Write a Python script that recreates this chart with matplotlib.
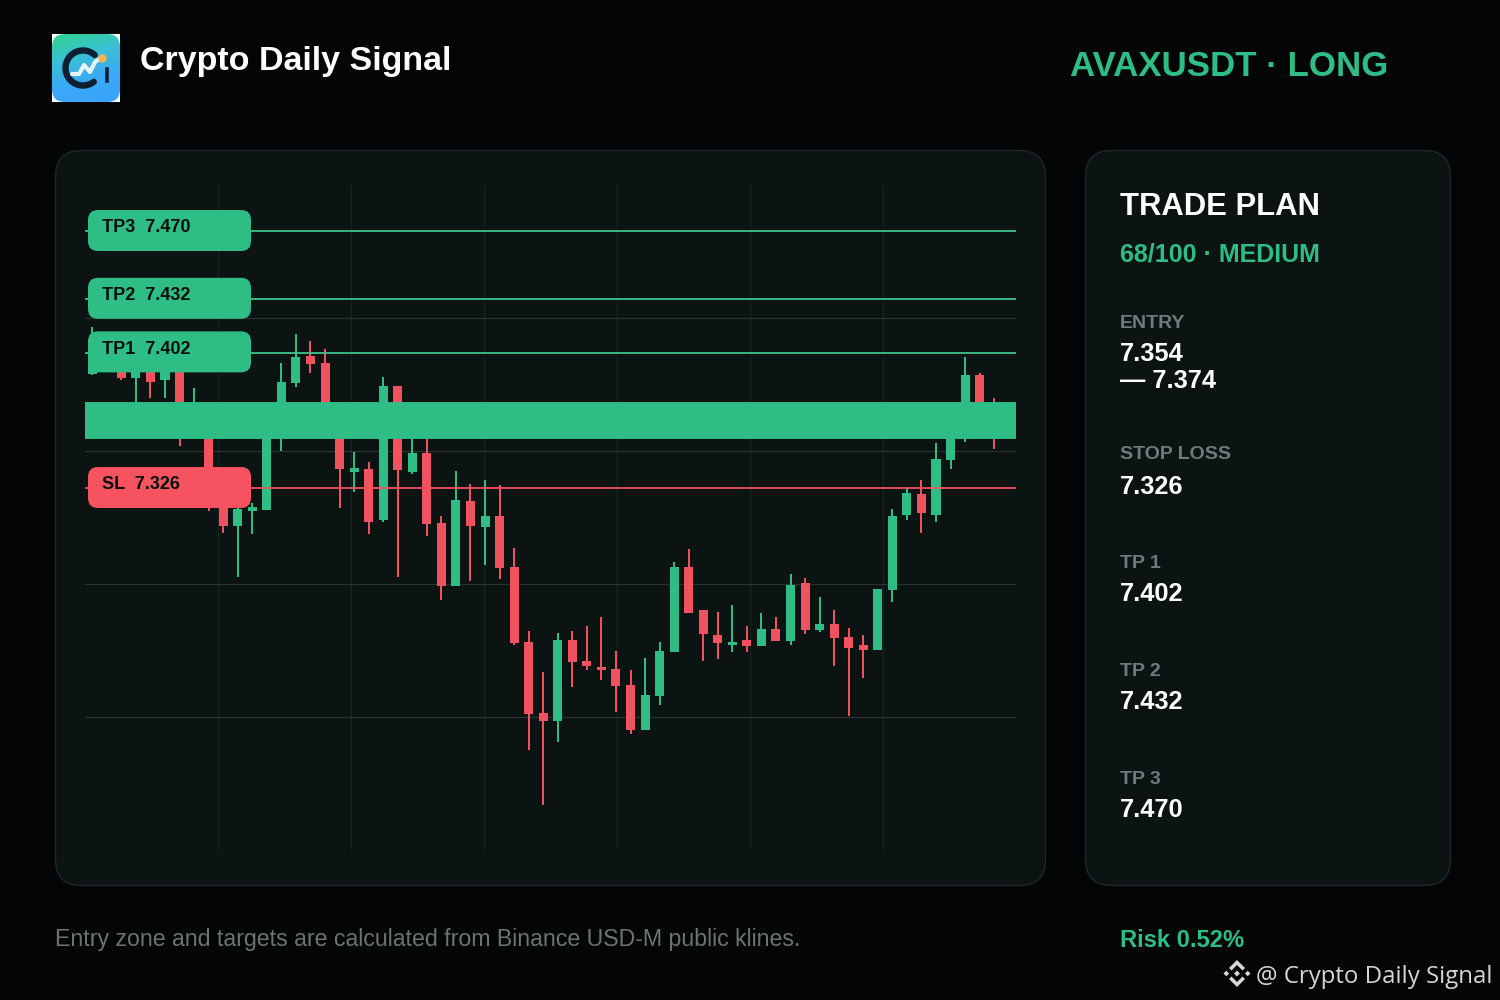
import numpy as np
import matplotlib
matplotlib.use('Agg')
import matplotlib.pyplot as plt
from matplotlib.patches import FancyBboxPatch, Polygon

plt.rcParams['font.family'] = ['Liberation Sans', 'DejaVu Sans']

# candles, prices (some sit hidden behind the zone and labels)
opens = [7.3899, 7.4061, 7.3977, 7.3876, 7.3977, 7.3865, 7.3949, 7.3613, 7.3613, 7.3277, 7.3047, 7.3131,
         7.3137, 7.3613, 7.3848, 7.4000, 7.3960, 7.3613, 7.3350, 7.3367, 7.3081, 7.3832, 7.3350, 7.3456,
         7.3064, 7.2711, 7.3187, 7.3042, 7.3103, 7.2818, 7.2397, 7.2000, 7.1955, 7.2409, 7.2291, 7.2257,
         7.2246, 7.2157, 7.1904, 7.2095, 7.2341, 7.2818, 7.2577, 7.2437, 7.2381, 7.2409, 7.2375, 7.2470,
         7.2403, 7.2728, 7.2465, 7.2498, 7.2425, 7.2381, 7.2353, 7.2689, 7.3109, 7.3227, 7.3109, 7.3417,
         7.3613, 7.3893, 7.3697]
highs = [7.4162, 7.4089, 7.4005, 7.4033, 7.4033, 7.4033, 7.4005, 7.3820, 7.3669, 7.3333, 7.3249, 7.3176,
         7.3686, 7.3960, 7.4123, 7.4084, 7.4039, 7.3652, 7.3462, 7.3406, 7.3882, 7.3832, 7.3557, 7.3557,
         7.3103, 7.3355, 7.3283, 7.3305, 7.3277, 7.2924, 7.2459, 7.2229, 7.2448, 7.2459, 7.2487, 7.2537,
         7.2347, 7.2241, 7.2308, 7.2397, 7.2846, 7.2918, 7.2577, 7.2565, 7.2605, 7.2487, 7.2560, 7.2537,
         7.2778, 7.2756, 7.2650, 7.2577, 7.2476, 7.2437, 7.2694, 7.3143, 7.3260, 7.3305, 7.3512, 7.3686,
         7.3994, 7.3904, 7.3764]
lows = [7.3893, 7.3932, 7.3865, 7.3641, 7.3764, 7.3764, 7.3495, 7.3574, 7.3131, 7.3008, 7.2762, 7.3002,
        7.3137, 7.3467, 7.3826, 7.3904, 7.3557, 7.3148, 7.3238, 7.3002, 7.3070, 7.2762, 7.3339, 7.2991,
        7.2633, 7.2711, 7.2739, 7.2829, 7.2750, 7.2381, 7.1792, 7.1484, 7.1837, 7.2145, 7.2241, 7.2185,
        7.2005, 7.1882, 7.1904, 7.2044, 7.2341, 7.2560, 7.2291, 7.2302, 7.2341, 7.2341, 7.2375, 7.2403,
        7.2381, 7.2442, 7.2453, 7.2263, 7.1983, 7.2196, 7.2353, 7.2622, 7.3081, 7.3008, 7.3070, 7.3367,
        7.3518, 7.3585, 7.3479]
closes = [7.4089, 7.3949, 7.3876, 7.4005, 7.3854, 7.3966, 7.3613, 7.3697, 7.3249, 7.3047, 7.3143, 7.3154,
          7.3641, 7.3854, 7.3994, 7.3955, 7.3585, 7.3367, 7.3372, 7.3070, 7.3832, 7.3361, 7.3456, 7.3058,
          7.2711, 7.3193, 7.3047, 7.3103, 7.2812, 7.2392, 7.1994, 7.1955, 7.2409, 7.2285, 7.2263, 7.2241,
          7.2151, 7.1904, 7.2101, 7.2347, 7.2818, 7.2560, 7.2442, 7.2392, 7.2397, 7.2375, 7.2470, 7.2403,
          7.2717, 7.2465, 7.2498, 7.2420, 7.2364, 7.2353, 7.2694, 7.3103, 7.3232, 7.3120, 7.3423, 7.3641,
          7.3893, 7.3613, 7.3613]

level_names = ['TP3', 'TP2', 'TP1', 'SL']
level_prices = [7.470, 7.432, 7.402, 7.326]
entry_low = 7.354
entry_high = 7.374

plan_labels = ['ENTRY', 'STOP LOSS', 'TP 1', 'TP 2', 'TP 3']
plan_values = ['7.354\n— 7.374', '7.326', '7.402', '7.432', '7.470']

GREEN = '#2ebd85'
RED = '#f6525f'
CANDLE_RED = '#f0535f'
BG = '#030507'
PANEL = '#0c1313'
EDGE = '#1e2828'
YMIN, YMAX = 7.1234, 7.4960

fig = plt.figure(figsize=(15, 10), dpi=100, facecolor=BG)

# page layer in pixel coordinates
page = fig.add_axes([0, 0, 1, 1])
page.set_xlim(0, 1500)
page.set_ylim(1000, 0)
page.axis('off')


def box(ax, x0, y0, x1, y1, r, **kw):
    p = FancyBboxPatch((x0 + r, y0 + r), x1 - x0 - 2 * r, y1 - y0 - 2 * r,
                       boxstyle=f'round,pad={r},rounding_size={r}', **kw)
    ax.add_patch(p)
    return p


box(page, 55.5, 150.5, 1045.5, 885.5, 26, fc=PANEL, ec=EDGE, lw=1)
box(page, 1085.5, 150.5, 1450.5, 885.5, 26, fc=PANEL, ec=EDGE, lw=1)

# logo
page.add_patch(plt.Rectangle((52, 34), 68, 68, fc='white', ec='none'))
grad = np.linspace(0, 1, 68)[:, None] * 0.8 + np.linspace(0, 1, 68)[None, :] * 0.2
cmap = matplotlib.colors.LinearSegmentedColormap.from_list('logo', ['#30d48e', '#3bc0d6', '#3aa8f8', '#3aa4fb'])
im = page.imshow(grad, cmap=cmap, extent=(52, 120, 102, 34), aspect='auto', zorder=2)
clip = box(page, 52, 34, 120, 102, 13, fc='none', ec='none')
im.set_clip_path(clip)
page.set_xlim(0, 1500)
page.set_ylim(1000, 0)
t = np.radians(np.linspace(52, 312, 80))
page.plot(83 + 17.5 * np.cos(t), 68 + 17.5 * np.sin(t), color='#0d1f33', lw=4.6, zorder=3, solid_capstyle='round')
page.plot([72, 79, 84, 90, 95, 101], [74, 74, 65, 72, 62, 58], color='#e8f6fb', lw=3, zorder=4,
          solid_joinstyle='round', solid_capstyle='round')
page.plot([102], [58], 'o', color='#f5b455', ms=5, zorder=5)
page.plot([107, 107], [69, 81], color='#0d1f33', lw=2.6, zorder=3)

# heading text
page.text(140, 70, 'Crypto Daily Signal', color='white', fontsize=24.5, fontweight='bold')
page.text(1070, 76, 'AVAXUSDT · LONG', color=GREEN, fontsize=25.1, fontweight='bold')

# side panel
page.text(1120, 215, 'TRADE PLAN', color='white', fontsize=22.3, fontweight='bold')
page.text(1120, 261, '68/100 · MEDIUM', color=GREEN, fontsize=18.0, fontweight='bold')
label_base = [328, 459, 568, 676, 784]
value_base = [361, 494, 601, 709, 817]
for lab, val, ly, vy in zip(plan_labels, plan_values, label_base, value_base):
    page.text(1120, ly, lab, color='#72797a', fontsize=14.0, fontweight='bold')
    for i, part in enumerate(val.split('\n')):
        page.text(1120, vy + 27 * i, part, color='white', fontsize=18.3, fontweight='bold')

# footer
page.text(55, 946, 'Entry zone and targets are calculated from Binance USD-M public klines.',
          color='#6d7373', fontsize=16.7)
page.text(1120, 947, 'Risk 0.52%', color=GREEN, fontsize=17.1, fontweight='bold')
page.text(1256, 983, '@ Crypto Daily Signal', color='#d4d6d6', fontsize=17.3, family='Open Sans')

# small diamond mark next to the handle
mark = [[(1237, 960), (1245, 968), (1242.5, 970.5), (1237, 965), (1231.5, 970.5), (1229, 968)],
        [(1237, 987), (1245, 979), (1242.5, 976.5), (1237, 982), (1231.5, 976.5), (1229, 979)],
        [(1234, 973.5), (1237, 970.5), (1240, 973.5), (1237, 976.5)],
        [(1223.5, 973.5), (1226.3, 970.7), (1229.1, 973.5), (1226.3, 976.3)],
        [(1244.9, 973.5), (1247.7, 970.7), (1250.5, 973.5), (1247.7, 976.3)]]
for pts in mark:
    page.add_patch(Polygon(pts, fc='#d8d8d8', ec='none'))

# price chart
ax = fig.add_axes([85 / 1500, 1 - 850 / 1000, 931 / 1500, 665 / 1000], facecolor='none')
ax.set_xlim(-0.5, 63.5)
ax.set_ylim(YMIN, YMAX)
for s in ax.spines.values():
    s.set_visible(False)
ax.set_xticks(np.linspace(-0.5, 63.5, 8)[1:-1])
ax.set_yticks(np.linspace(YMIN, YMAX, 6)[1:-1])
ax.tick_params(length=0, labelbottom=False, labelleft=False)
ax.grid(axis='y', color='#2a3131', lw=0.9)
ax.grid(axis='x', color='#1a2222', lw=0.9)
ax.set_axisbelow(True)

opens_a = np.array(opens)
closes_a = np.array(closes)
xs = np.arange(len(opens))
cols = [GREEN if c >= o else CANDLE_RED for o, c in zip(opens, closes)]
ax.vlines(xs, lows, highs, colors=cols, lw=1.45, zorder=2)
ax.bar(xs, np.abs(closes_a - opens_a), bottom=np.minimum(opens_a, closes_a), width=0.62, color=cols, zorder=3)

ax.axhspan(entry_low, entry_high, fc=GREEN, ec=GREEN, lw=1.4, zorder=5)
for name, price in zip(level_names, level_prices):
    ax.axhline(price, color=RED if name == 'SL' else '#3fc48c', lw=1.45, alpha=0.9, zorder=4)

# labels on top of everything, placed from the price scale
over = fig.add_axes([0, 0, 1, 1], facecolor='none')
over.set_xlim(0, 1500)
over.set_ylim(1000, 0)
over.axis('off')
to_px = lambda p: 850 - (p - YMIN) / (YMAX - YMIN) * 665
for name, price in zip(level_names, level_prices):
    y = to_px(price)
    box(over, 88, y - 21.4, 251, y + 19.6, 10, fc=RED if name == 'SL' else GREEN, ec='none')
    over.text(102, y + 1, f'{name}  {price:.3f}', color='#07100c', fontsize=13.0, fontweight='bold')

fig.savefig('out.png', dpi=100, facecolor=BG)
